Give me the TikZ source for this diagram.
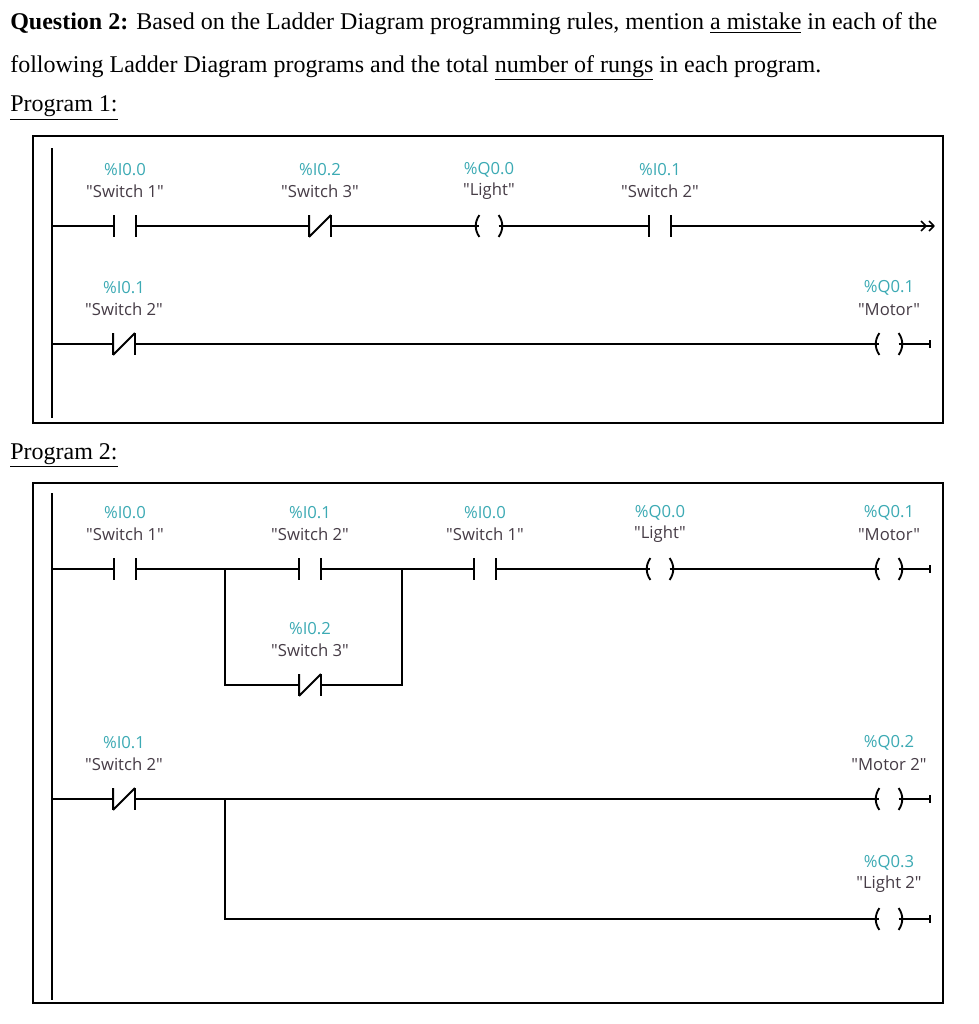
\documentclass[tikz,border=0pt]{standalone}
\usepackage{fontspec}
\setmainfont{Liberation Serif}
\newfontfamily\plcfont{Open Sans}
\usetikzlibrary{positioning}
\definecolor{addrcol}{RGB}{60,170,180}
\definecolor{namecol}{RGB}{70,60,70}
\tikzset{
  wire/.style={line width=1.4pt},
  contact/.style={inner sep=0pt, minimum width=16pt, minimum height=16pt},
  coil/.style={inner sep=0pt, minimum width=14pt, minimum height=16pt},
  addr/.style={font=\plcfont\fontsize{12.5}{14}\selectfont, text=addrcol, inner sep=0pt},
  tag/.style={font=\plcfont\fontsize{12.5}{14}\selectfont, text=namecol, inner sep=0pt},
  rail/.style={line width=1.4pt},
  frame/.style={line width=0.8pt},
  quest/.style={anchor=west, inner sep=0pt, font=\fontsize{18}{20}\selectfont}
}
% contact symbols drawn on named nodes
\newcommand\nosym[1]{\draw[wire] (#1.north west) -- (#1.south west) (#1.north east) -- (#1.south east);}
\newcommand\ncsym[1]{\draw[wire] (#1.north west) -- (#1.south west) (#1.north east) -- (#1.south east)
  (#1.south west) -- (#1.north east);}
\newcommand\coilsym[1]{\draw[wire] (#1.north west) to[bend right=35] (#1.south west)
  (#1.north east) to[bend left=35] (#1.south east);}
\newcommand\plclabel[4]{\node[addr] at ([yshift=42pt]#1.center) {#2}; \node[tag] at ([yshift=26pt]#1.center) {#3};}
\begin{document}
\begin{tikzpicture}[x=0.75pt,y=-0.75pt]
  \useasboundingbox (0,0) rectangle (978,1024);
  \fill[white] (0,0) rectangle (978,1024);

  % question text
  \node[quest] (q1) at (10,24)
    {\textbf{Question 2:} Based on the Ladder Diagram programming rules, mention \underline{a mistake} in each of the};
  \node[quest] (q2) at (10,68)
    {following Ladder Diagram programs and the total \underline{number of rungs} in each program.};
  \node[quest] (p1) at (10,108) {\underline{Program 1:}};
  \node[quest] (p2) at (10,455) {\underline{Program 2:}};

  % program 1
  \draw[frame] (33,136) rectangle (943,423);
  \draw[rail] (52,148) -- (52,418);
  \node[contact] (a1) at (125,226) {};
  \node[contact] (a2) at (320,226) {};
  \node[coil] (a3) at (489,226) {};
  \node[contact] (a4) at (660,226) {};
  \coordinate (a5) at (934,226);
  \nosym{a1} \ncsym{a2} \coilsym{a3} \nosym{a4}
  \plclabel{a1}{\%I0.0}{"Switch 1"}{}
  \plclabel{a2}{\%I0.2}{"Switch 3"}{}
  \plclabel{a3}{\%Q0.0}{"Light"}{}
  \plclabel{a4}{\%I0.1}{"Switch 2"}{}
  \draw[wire] (52,226) -- (a1.west) (a1.east) -- (a2.west) (a2.east) -- (a3.west)
    (a3.east) -- (a4.west) (a4.east) -- (a5);
  \draw[line width=1.2pt] (a5) ++(-8,0) -- ++(-5,-5) (a5) ++(-8,0) -- ++(-5,5)
    (a5) -- ++(-5,-5) (a5) -- ++(-5,5);

  \node[contact] (b1) at (124,344) {};
  \node[coil] (b2) at (889,344) {};
  \coordinate (b3) at (930,344);
  \ncsym{b1} \coilsym{b2}
  \plclabel{b1}{\%I0.1}{"Switch 2"}{}
  \plclabel{b2}{\%Q0.1}{"Motor"}{}
  \draw[wire] (52,344) -- (b1.west) (b1.east) -- (b2.west) (b2.east) -- (b3);
  \draw[wire] (b3) ++(0,-4) -- ++(0,8);

  % program 2
  \draw[frame] (33,483) rectangle (943,1003);
  \draw[rail] (52,493) -- (52,1000);
  \node[contact] (c1) at (125,569) {};
  \node[contact] (c2) at (310,569) {};
  \node[contact] (c3) at (310,685) {};
  \node[contact] (c4) at (485,569) {};
  \node[coil] (c5) at (660,569) {};
  \node[coil] (c6) at (889,569) {};
  \nosym{c1} \nosym{c2} \ncsym{c3} \nosym{c4} \coilsym{c5} \coilsym{c6}
  \plclabel{c1}{\%I0.0}{"Switch 1"}{}
  \plclabel{c2}{\%I0.1}{"Switch 2"}{}
  \plclabel{c3}{\%I0.2}{"Switch 3"}{}
  \plclabel{c4}{\%I0.0}{"Switch 1"}{}
  \plclabel{c5}{\%Q0.0}{"Light"}{}
  \plclabel{c6}{\%Q0.1}{"Motor"}{}
  \coordinate (br1) at (225,569);
  \coordinate (br2) at (402,569);
  \coordinate (c7) at (930,569);
  \draw[wire] (52,569) -- (c1.west) (c1.east) -- (br1) -- (c2.west) (c2.east) -- (br2)
    -- (c4.west) (c4.east) -- (c5.west) (c5.east) -- (c6.west) (c6.east) -- (c7);
  \draw[wire] (br1) |- (c3.west) (c3.east) -| (br2);
  \draw[wire] (c7) ++(0,-4) -- ++(0,8);

  \node[contact] (d1) at (124,799) {};
  \node[coil] (d2) at (889,799) {};
  \node[coil] (d3) at (889,919) {};
  \ncsym{d1} \coilsym{d2} \coilsym{d3}
  \plclabel{d1}{\%I0.1}{"Switch 2"}{}
  \plclabel{d2}{\%Q0.2}{"Motor 2"}{}
  \plclabel{d3}{\%Q0.3}{"Light 2"}{}
  \coordinate (br3) at (225,799);
  \coordinate (d4) at (930,799);
  \coordinate (d5) at (930,919);
  \draw[wire] (52,799) -- (d1.west) (d1.east) -- (br3) -- (d2.west) (d2.east) -- (d4);
  \draw[wire] (br3) |- (d3.west) (d3.east) -- (d5);
  \draw[wire] (d4) ++(0,-4) -- ++(0,8) (d5) ++(0,-4) -- ++(0,8);
\end{tikzpicture}
\end{document}
